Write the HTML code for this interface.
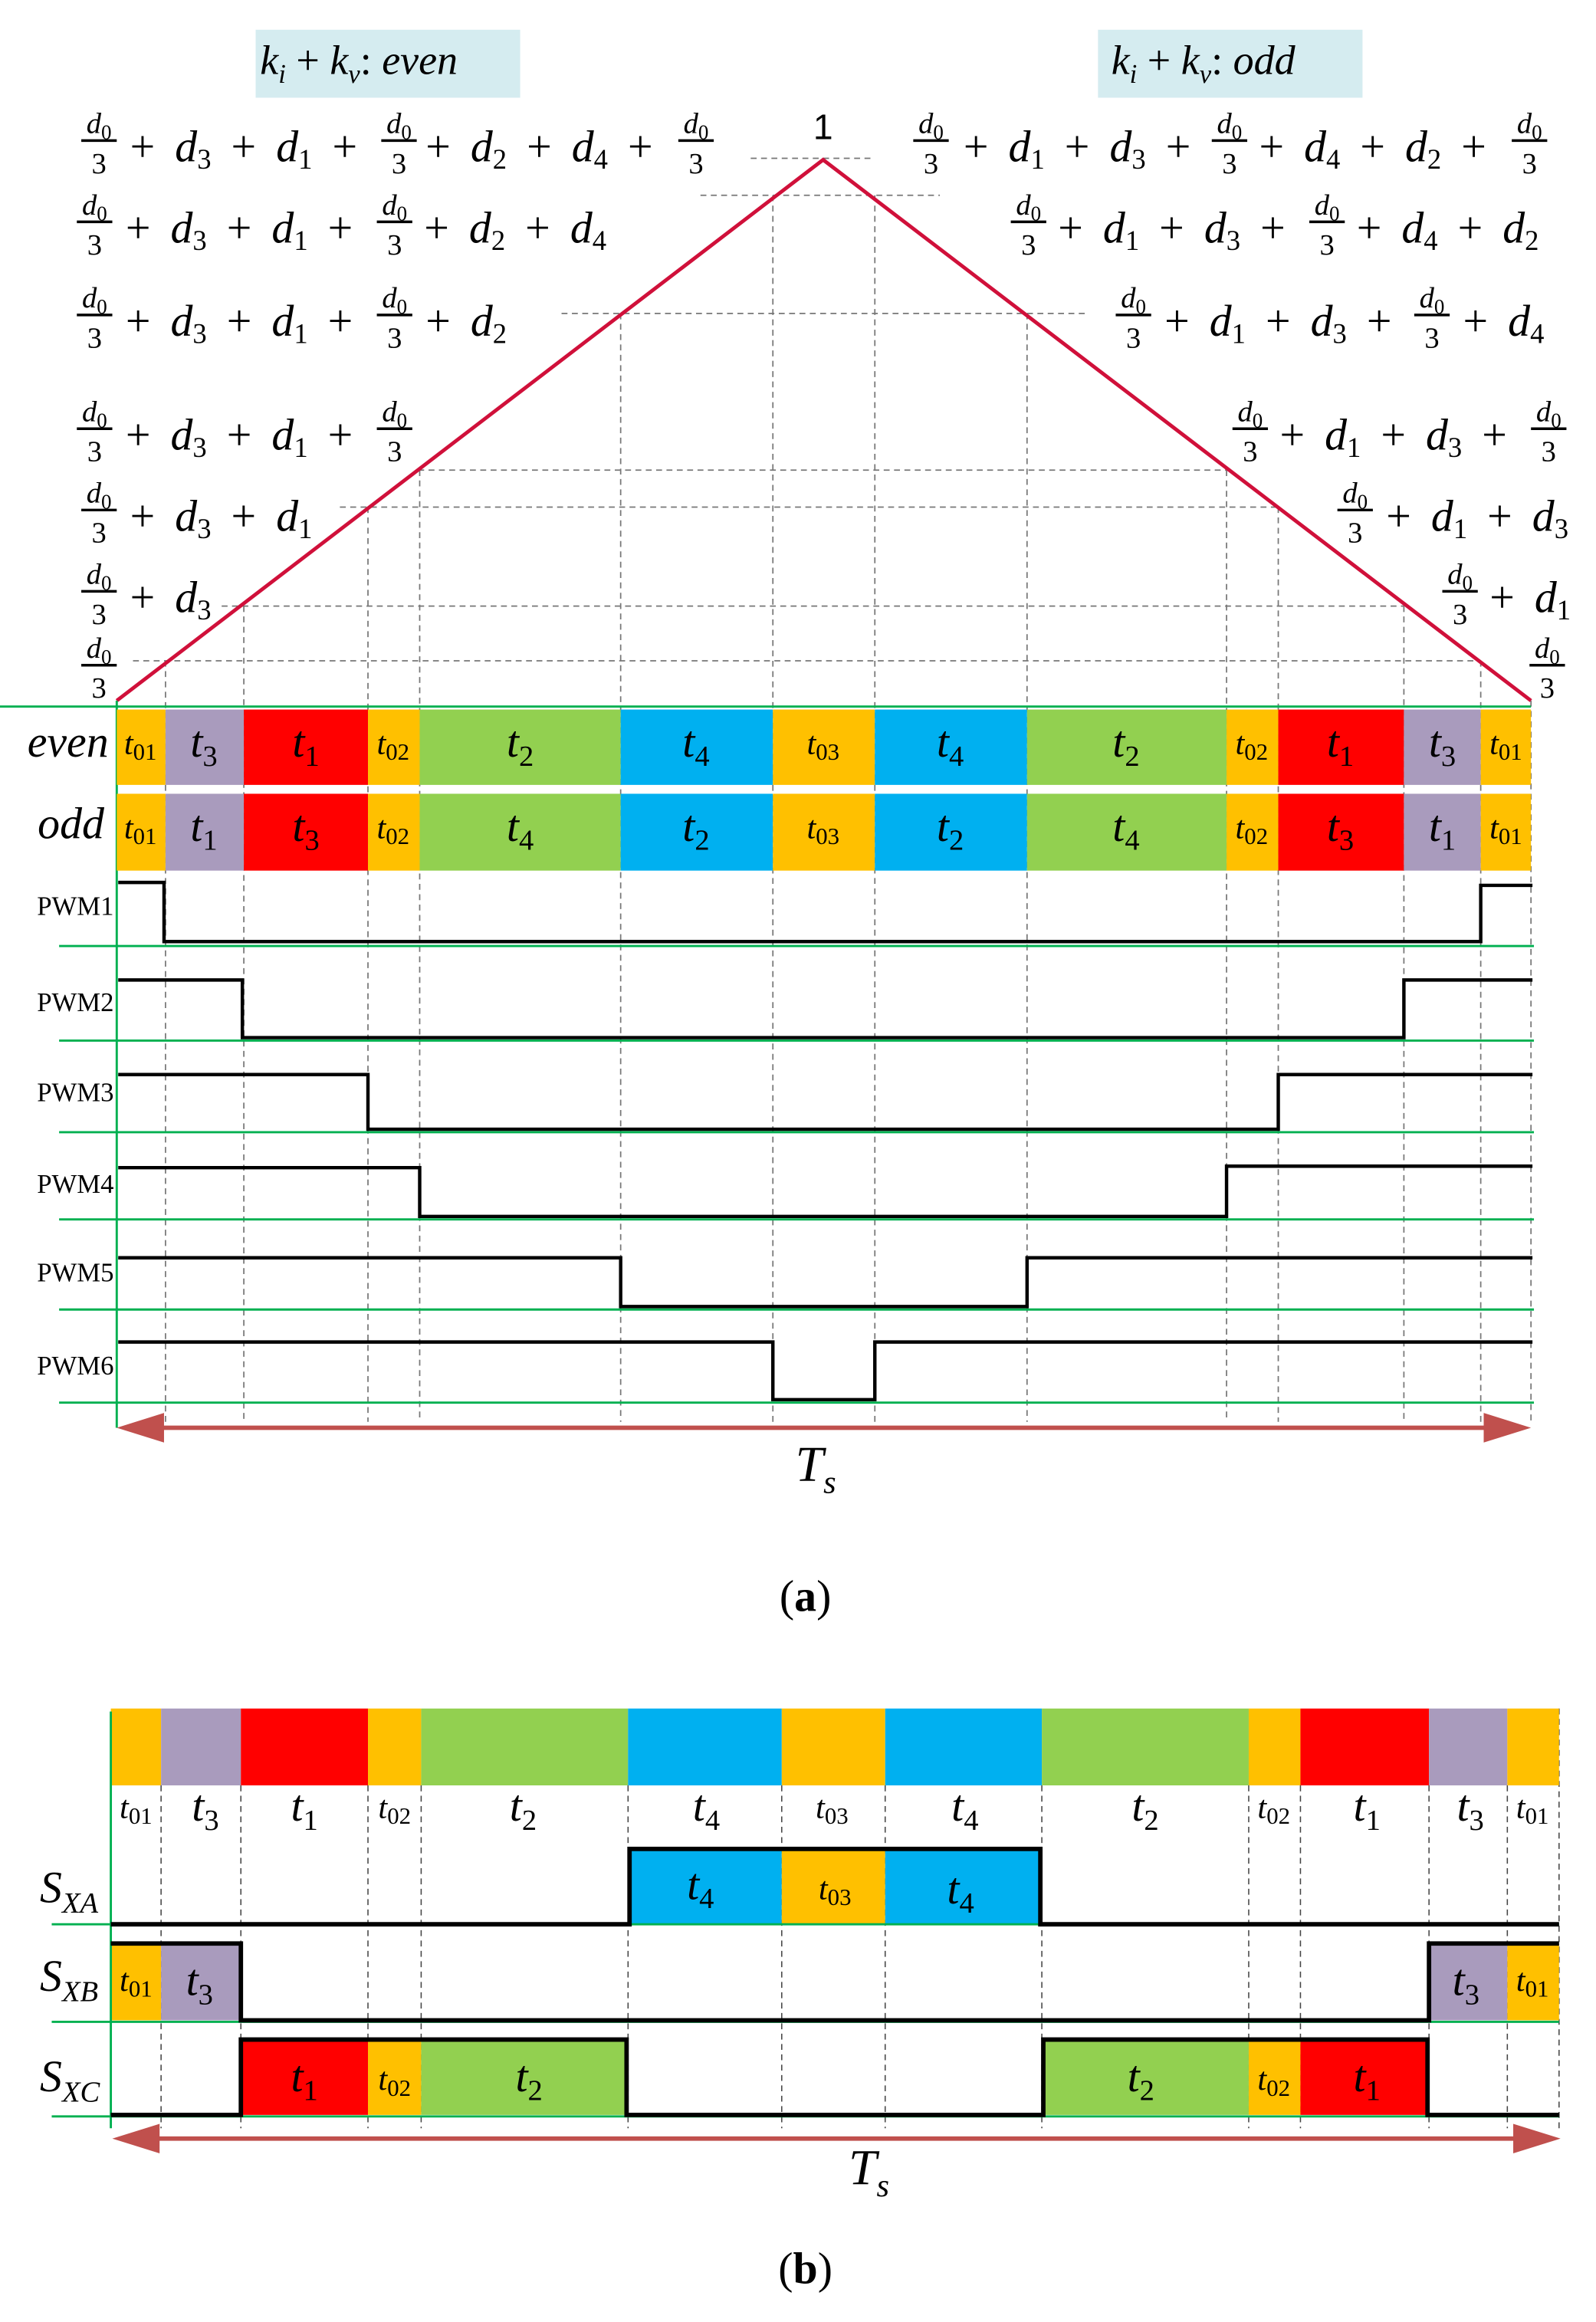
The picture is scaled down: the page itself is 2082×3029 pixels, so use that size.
<!DOCTYPE html>
<html><head><meta charset="utf-8"><style>html,body{margin:0;padding:0;background:#fff}svg{display:block}.f{word-spacing:6px}</style></head><body>
<svg width="2082" height="3029" viewBox="0 0 1080 1571" xmlns="http://www.w3.org/2000/svg" font-family="Liberation Serif, serif">
<defs>
<g id="fr"><text x="12" y="-10" font-size="20" font-style="italic" text-anchor="middle">d<tspan font-size="14" dy="4" font-style="normal">0</tspan></text><line x1="0" y1="-5" x2="24" y2="-5" stroke="#000" stroke-width="1.8"/><text x="12" y="17" font-size="20" text-anchor="middle">3</text></g>
</defs>
<rect x="173" y="20" width="179" height="46" fill="#d5ecf0"/>
<rect x="743" y="20" width="179" height="46" fill="#d5ecf0"/>
<g font-size="28" font-style="italic">
<text x="176" y="50">k<tspan font-size="18" dy="6">i</tspan><tspan dy="-6" font-style="normal"> + </tspan>k<tspan font-size="18" dy="6">v</tspan><tspan dy="-6" font-style="normal">: </tspan>even</text>
<text x="752" y="50">k<tspan font-size="18" dy="6">i</tspan><tspan dy="-6" font-style="normal"> + </tspan>k<tspan font-size="18" dy="6">v</tspan><tspan dy="-6" font-style="normal">: </tspan>odd</text>
</g>
<text x="557" y="94" font-size="24" text-anchor="middle" font-family="Liberation Sans, sans-serif">1</text>
<g stroke="#777" stroke-width="0.9" stroke-dasharray="4,3" fill="none">
<line x1="508" y1="107" x2="590" y2="107"/><line x1="474" y1="132" x2="636" y2="132"/>
<line x1="380" y1="212" x2="735" y2="212"/><line x1="283" y1="318" x2="830" y2="318"/>
<line x1="230" y1="343" x2="866" y2="343"/><line x1="150" y1="410" x2="950" y2="410"/>
<line x1="90" y1="447" x2="1002" y2="447"/>
<line x1="112" y1="447" x2="112" y2="962"/><line x1="165" y1="410" x2="165" y2="962"/>
<line x1="249" y1="343" x2="249" y2="962"/><line x1="284" y1="318" x2="284" y2="962"/>
<line x1="420" y1="212" x2="420" y2="962"/><line x1="523" y1="132" x2="523" y2="962"/>
<line x1="592" y1="132" x2="592" y2="962"/><line x1="695" y1="212" x2="695" y2="962"/>
<line x1="830" y1="318" x2="830" y2="962"/><line x1="865" y1="343" x2="865" y2="962"/>
<line x1="950" y1="410" x2="950" y2="962"/><line x1="1002" y1="447" x2="1002" y2="962"/>
<line x1="1036" y1="474" x2="1036" y2="962"/>
</g>
<polyline points="79,474 557,108 1036,474" fill="none" stroke="#d0103a" stroke-width="2.5"/>
<g font-size="30" class="f">
<use href="#fr" x="55" y="100"/><text x="88" y="109">+ <tspan font-style="italic">d</tspan><tspan font-size="19" dy="5">3</tspan><tspan dy="-5"> + </tspan><tspan font-style="italic">d</tspan><tspan font-size="19" dy="5">1</tspan><tspan dy="-5"> +</tspan></text>
<use href="#fr" x="258" y="100"/><text x="288" y="109">+ <tspan font-style="italic">d</tspan><tspan font-size="19" dy="5">2</tspan><tspan dy="-5"> + </tspan><tspan font-style="italic">d</tspan><tspan font-size="19" dy="5">4</tspan><tspan dy="-5"> +</tspan></text>
<use href="#fr" x="459" y="100"/>
<use href="#fr" x="52" y="155"/><text x="85" y="164">+ <tspan font-style="italic">d</tspan><tspan font-size="19" dy="5">3</tspan><tspan dy="-5"> + </tspan><tspan font-style="italic">d</tspan><tspan font-size="19" dy="5">1</tspan><tspan dy="-5"> +</tspan></text>
<use href="#fr" x="255" y="155"/><text x="287" y="164">+ <tspan font-style="italic">d</tspan><tspan font-size="19" dy="5">2</tspan><tspan dy="-5"> + </tspan><tspan font-style="italic">d</tspan><tspan font-size="19" dy="5">4</tspan></text>
<use href="#fr" x="52" y="218"/><text x="85" y="227">+ <tspan font-style="italic">d</tspan><tspan font-size="19" dy="5">3</tspan><tspan dy="-5"> + </tspan><tspan font-style="italic">d</tspan><tspan font-size="19" dy="5">1</tspan><tspan dy="-5"> +</tspan></text>
<use href="#fr" x="255" y="218"/><text x="288" y="227">+ <tspan font-style="italic">d</tspan><tspan font-size="19" dy="5">2</tspan></text>
<use href="#fr" x="52" y="295"/><text x="85" y="304">+ <tspan font-style="italic">d</tspan><tspan font-size="19" dy="5">3</tspan><tspan dy="-5"> + </tspan><tspan font-style="italic">d</tspan><tspan font-size="19" dy="5">1</tspan><tspan dy="-5"> +</tspan></text>
<use href="#fr" x="255" y="295"/>
<use href="#fr" x="55" y="350"/><text x="88" y="359">+ <tspan font-style="italic">d</tspan><tspan font-size="19" dy="5">3</tspan><tspan dy="-5"> + </tspan><tspan font-style="italic">d</tspan><tspan font-size="19" dy="5">1</tspan></text>
<use href="#fr" x="55" y="405"/><text x="88" y="414">+ <tspan font-style="italic">d</tspan><tspan font-size="19" dy="5">3</tspan></text>
<use href="#fr" x="55" y="455"/>
<use href="#fr" x="618" y="100"/><text x="652" y="109">+ <tspan font-style="italic">d</tspan><tspan font-size="19" dy="5">1</tspan><tspan dy="-5"> + </tspan><tspan font-style="italic">d</tspan><tspan font-size="19" dy="5">3</tspan><tspan dy="-5"> +</tspan></text>
<use href="#fr" x="820" y="100"/><text x="852" y="109">+ <tspan font-style="italic">d</tspan><tspan font-size="19" dy="5">4</tspan><tspan dy="-5"> + </tspan><tspan font-style="italic">d</tspan><tspan font-size="19" dy="5">2</tspan><tspan dy="-5"> +</tspan></text>
<use href="#fr" x="1023" y="100"/>
<use href="#fr" x="684" y="155"/><text x="716" y="164">+ <tspan font-style="italic">d</tspan><tspan font-size="19" dy="5">1</tspan><tspan dy="-5"> + </tspan><tspan font-style="italic">d</tspan><tspan font-size="19" dy="5">3</tspan><tspan dy="-5"> +</tspan></text>
<use href="#fr" x="886" y="155"/><text x="918" y="164">+ <tspan font-style="italic">d</tspan><tspan font-size="19" dy="5">4</tspan><tspan dy="-5"> + </tspan><tspan font-style="italic">d</tspan><tspan font-size="19" dy="5">2</tspan></text>
<use href="#fr" x="755" y="218"/><text x="788" y="227">+ <tspan font-style="italic">d</tspan><tspan font-size="19" dy="5">1</tspan><tspan dy="-5"> + </tspan><tspan font-style="italic">d</tspan><tspan font-size="19" dy="5">3</tspan><tspan dy="-5"> +</tspan></text>
<use href="#fr" x="957" y="218"/><text x="990" y="227">+ <tspan font-style="italic">d</tspan><tspan font-size="19" dy="5">4</tspan></text>
<use href="#fr" x="834" y="295"/><text x="866" y="304">+ <tspan font-style="italic">d</tspan><tspan font-size="19" dy="5">1</tspan><tspan dy="-5"> + </tspan><tspan font-style="italic">d</tspan><tspan font-size="19" dy="5">3</tspan><tspan dy="-5"> +</tspan></text>
<use href="#fr" x="1036" y="295"/>
<use href="#fr" x="905" y="350"/><text x="938" y="359">+ <tspan font-style="italic">d</tspan><tspan font-size="19" dy="5">1</tspan><tspan dy="-5"> + </tspan><tspan font-style="italic">d</tspan><tspan font-size="19" dy="5">3</tspan></text>
<use href="#fr" x="976" y="405"/><text x="1008" y="414">+ <tspan font-style="italic">d</tspan><tspan font-size="19" dy="5">1</tspan></text>
<use href="#fr" x="1035" y="455"/>
</g>
<g stroke="#00b050" stroke-width="1.5">
<line x1="0" y1="478" x2="1036" y2="478"/><line x1="79" y1="474" x2="79" y2="966"/>
<line x1="40" y1="640" x2="1038" y2="640"/><line x1="40" y1="704" x2="1038" y2="704"/>
<line x1="40" y1="766" x2="1038" y2="766"/><line x1="40" y1="825" x2="1038" y2="825"/>
<line x1="40" y1="886" x2="1038" y2="886"/><line x1="40" y1="949" x2="1038" y2="949"/>
</g>
<g>
<rect x="79" y="480" width="33" height="51" fill="#FFC000"/><rect x="112" y="480" width="53" height="51" fill="#A99BBD"/><rect x="165" y="480" width="84" height="51" fill="#FF0000"/><rect x="249" y="480" width="35" height="51" fill="#FFC000"/><rect x="284" y="480" width="136" height="51" fill="#92D050"/><rect x="420" y="480" width="103" height="51" fill="#00B0F0"/><rect x="523" y="480" width="69" height="51" fill="#FFC000"/><rect x="592" y="480" width="103" height="51" fill="#00B0F0"/><rect x="695" y="480" width="135" height="51" fill="#92D050"/><rect x="830" y="480" width="35" height="51" fill="#FFC000"/><rect x="865" y="480" width="85" height="51" fill="#FF0000"/><rect x="950" y="480" width="52" height="51" fill="#A99BBD"/><rect x="1002" y="480" width="34" height="51" fill="#FFC000"/>
<rect x="79" y="537" width="33" height="52" fill="#FFC000"/><rect x="112" y="537" width="53" height="52" fill="#A99BBD"/><rect x="165" y="537" width="84" height="52" fill="#FF0000"/><rect x="249" y="537" width="35" height="52" fill="#FFC000"/><rect x="284" y="537" width="136" height="52" fill="#92D050"/><rect x="420" y="537" width="103" height="52" fill="#00B0F0"/><rect x="523" y="537" width="69" height="52" fill="#FFC000"/><rect x="592" y="537" width="103" height="52" fill="#00B0F0"/><rect x="695" y="537" width="135" height="52" fill="#92D050"/><rect x="830" y="537" width="35" height="52" fill="#FFC000"/><rect x="865" y="537" width="85" height="52" fill="#FF0000"/><rect x="950" y="537" width="52" height="52" fill="#A99BBD"/><rect x="1002" y="537" width="34" height="52" fill="#FFC000"/>
</g>
<g font-style="italic" font-size="30" text-anchor="middle">
<text x="46" y="512">even</text><text x="48" y="567">odd</text>
</g>
<g font-style="italic" text-anchor="middle">
<g font-size="22"><text x="95" y="510">t<tspan font-style="normal" font-size="16" dy="4">01</tspan></text><text x="266" y="510">t<tspan font-style="normal" font-size="16" dy="4">02</tspan></text><text x="557" y="510">t<tspan font-style="normal" font-size="16" dy="4">03</tspan></text><text x="847" y="510">t<tspan font-style="normal" font-size="16" dy="4">02</tspan></text><text x="1019" y="510">t<tspan font-style="normal" font-size="16" dy="4">01</tspan></text>
<text x="95" y="567">t<tspan font-style="normal" font-size="16" dy="4">01</tspan></text><text x="266" y="567">t<tspan font-style="normal" font-size="16" dy="4">02</tspan></text><text x="557" y="567">t<tspan font-style="normal" font-size="16" dy="4">03</tspan></text><text x="847" y="567">t<tspan font-style="normal" font-size="16" dy="4">02</tspan></text><text x="1019" y="567">t<tspan font-style="normal" font-size="16" dy="4">01</tspan></text></g>
<g font-size="30"><text x="138" y="512">t<tspan font-style="normal" font-size="20" dy="6">3</tspan></text><text x="207" y="512">t<tspan font-style="normal" font-size="20" dy="6">1</tspan></text><text x="352" y="512">t<tspan font-style="normal" font-size="20" dy="6">2</tspan></text><text x="471" y="512">t<tspan font-style="normal" font-size="20" dy="6">4</tspan></text><text x="643" y="512">t<tspan font-style="normal" font-size="20" dy="6">4</tspan></text><text x="762" y="512">t<tspan font-style="normal" font-size="20" dy="6">2</tspan></text><text x="907" y="512">t<tspan font-style="normal" font-size="20" dy="6">1</tspan></text><text x="976" y="512">t<tspan font-style="normal" font-size="20" dy="6">3</tspan></text>
<text x="138" y="569">t<tspan font-style="normal" font-size="20" dy="6">1</tspan></text><text x="207" y="569">t<tspan font-style="normal" font-size="20" dy="6">3</tspan></text><text x="352" y="569">t<tspan font-style="normal" font-size="20" dy="6">4</tspan></text><text x="471" y="569">t<tspan font-style="normal" font-size="20" dy="6">2</tspan></text><text x="643" y="569">t<tspan font-style="normal" font-size="20" dy="6">2</tspan></text><text x="762" y="569">t<tspan font-style="normal" font-size="20" dy="6">4</tspan></text><text x="907" y="569">t<tspan font-style="normal" font-size="20" dy="6">3</tspan></text><text x="976" y="569">t<tspan font-style="normal" font-size="20" dy="6">1</tspan></text></g>
</g>
<g font-size="18" text-anchor="end"><text x="77" y="619">PWM1</text><text x="77" y="684">PWM2</text><text x="77" y="745">PWM3</text><text x="77" y="807">PWM4</text><text x="77" y="867">PWM5</text><text x="77" y="930">PWM6</text></g>
<g fill="none" stroke="#000" stroke-width="2.3">
<polyline points="80,597 111,597 111,637 1002,637 1002,599 1037,599"/>
<polyline points="80,663 164,663 164,702 950,702 950,663 1037,663"/>
<polyline points="80,727 249,727 249,764 865,764 865,727 1037,727"/>
<polyline points="80,790 284,790 284,823 830,823 830,789 1037,789"/>
<polyline points="80,851 420,851 420,884 695,884 695,851 1037,851"/>
<polyline points="80,908 523,908 523,947 592,947 592,908 1037,908"/>
</g>
<line x1="100" y1="966" x2="1015" y2="966" stroke="#c0504d" stroke-width="3"/>
<polygon points="79,966 111,956 111,976" fill="#c0504d"/><polygon points="1036,966 1004,956 1004,976" fill="#c0504d"/>
<text x="552" y="1002" font-size="34" font-style="italic" text-anchor="middle">T<tspan font-size="22" dy="8">s</tspan></text>
<text x="545" y="1090" font-size="30" text-anchor="middle">(<tspan font-weight="bold">a</tspan>)</text>

<g stroke="#444" stroke-width="0.8" stroke-dasharray="4,3">
<line x1="109" y1="1208" x2="109" y2="1440"/><line x1="163" y1="1208" x2="163" y2="1440"/><line x1="249" y1="1208" x2="249" y2="1440"/><line x1="285" y1="1208" x2="285" y2="1440"/><line x1="425" y1="1208" x2="425" y2="1440"/><line x1="529" y1="1208" x2="529" y2="1440"/><line x1="599" y1="1208" x2="599" y2="1440"/><line x1="705" y1="1208" x2="705" y2="1440"/><line x1="845" y1="1208" x2="845" y2="1440"/><line x1="880" y1="1208" x2="880" y2="1440"/><line x1="967" y1="1208" x2="967" y2="1440"/><line x1="1020" y1="1208" x2="1020" y2="1440"/><line x1="1055" y1="1156" x2="1055" y2="1440"/>
</g>
<rect x="75" y="1156" width="34" height="52" fill="#FFC000"/><rect x="109" y="1156" width="54" height="52" fill="#A99BBD"/><rect x="163" y="1156" width="86" height="52" fill="#FF0000"/><rect x="249" y="1156" width="36" height="52" fill="#FFC000"/><rect x="285" y="1156" width="140" height="52" fill="#92D050"/><rect x="425" y="1156" width="104" height="52" fill="#00B0F0"/><rect x="529" y="1156" width="70" height="52" fill="#FFC000"/><rect x="599" y="1156" width="106" height="52" fill="#00B0F0"/><rect x="705" y="1156" width="140" height="52" fill="#92D050"/><rect x="845" y="1156" width="35" height="52" fill="#FFC000"/><rect x="880" y="1156" width="87" height="52" fill="#FF0000"/><rect x="967" y="1156" width="53" height="52" fill="#A99BBD"/><rect x="1020" y="1156" width="35" height="52" fill="#FFC000"/>
<rect x="425" y="1251" width="104" height="51" fill="#00B0F0"/><rect x="529" y="1251" width="70" height="51" fill="#FFC000"/><rect x="599" y="1251" width="106" height="51" fill="#00B0F0"/>
<rect x="75" y="1315" width="34" height="52" fill="#FFC000"/><rect x="109" y="1315" width="54" height="52" fill="#A99BBD"/><rect x="967" y="1315" width="53" height="52" fill="#A99BBD"/><rect x="1020" y="1315" width="35" height="52" fill="#FFC000"/>
<rect x="163" y="1380" width="86" height="51" fill="#FF0000"/><rect x="249" y="1380" width="36" height="51" fill="#FFC000"/><rect x="285" y="1380" width="140" height="51" fill="#92D050"/><rect x="705" y="1380" width="140" height="51" fill="#92D050"/><rect x="845" y="1380" width="35" height="51" fill="#FFC000"/><rect x="880" y="1380" width="87" height="51" fill="#FF0000"/>
<g stroke="#00b050" stroke-width="1.5"><line x1="75" y1="1158" x2="75" y2="1440"/><line x1="35" y1="1302" x2="1055" y2="1302"/><line x1="35" y1="1368" x2="1055" y2="1368"/><line x1="35" y1="1432" x2="1055" y2="1432"/></g>
<g fill="none" stroke="#000" stroke-width="3">
<polyline points="75,1302 426,1302 426,1251 704,1251 704,1302 1055,1302"/>
<polyline points="75,1315 163,1315 163,1367 967,1367 967,1315 1055,1315"/>
<polyline points="75,1431 163,1431 163,1380 424,1380 424,1431 706,1431 706,1380 966,1380 966,1431 1055,1431"/>
</g>
<g font-style="italic" text-anchor="middle">
<g font-size="22"><text x="92" y="1230">t<tspan font-style="normal" font-size="16" dy="4">01</tspan></text><text x="267" y="1230">t<tspan font-style="normal" font-size="16" dy="4">02</tspan></text><text x="563" y="1230">t<tspan font-style="normal" font-size="16" dy="4">03</tspan></text><text x="862" y="1230">t<tspan font-style="normal" font-size="16" dy="4">02</tspan></text><text x="1037" y="1230">t<tspan font-style="normal" font-size="16" dy="4">01</tspan></text>
<text x="565" y="1285">t<tspan font-style="normal" font-size="16" dy="4">03</tspan></text><text x="92" y="1347">t<tspan font-style="normal" font-size="16" dy="4">01</tspan></text><text x="1037" y="1347">t<tspan font-style="normal" font-size="16" dy="4">01</tspan></text><text x="267" y="1414">t<tspan font-style="normal" font-size="16" dy="4">02</tspan></text><text x="862" y="1414">t<tspan font-style="normal" font-size="16" dy="4">02</tspan></text></g>
<g font-size="30"><text x="139" y="1232">t<tspan font-style="normal" font-size="20" dy="6">3</tspan></text><text x="206" y="1232">t<tspan font-style="normal" font-size="20" dy="6">1</tspan></text><text x="354" y="1232">t<tspan font-style="normal" font-size="20" dy="6">2</tspan></text><text x="478" y="1232">t<tspan font-style="normal" font-size="20" dy="6">4</tspan></text><text x="653" y="1232">t<tspan font-style="normal" font-size="20" dy="6">4</tspan></text><text x="775" y="1232">t<tspan font-style="normal" font-size="20" dy="6">2</tspan></text><text x="925" y="1232">t<tspan font-style="normal" font-size="20" dy="6">1</tspan></text><text x="995" y="1232">t<tspan font-style="normal" font-size="20" dy="6">3</tspan></text>
<text x="474" y="1285">t<tspan font-style="normal" font-size="20" dy="6">4</tspan></text><text x="650" y="1288">t<tspan font-style="normal" font-size="20" dy="6">4</tspan></text>
<text x="135" y="1350">t<tspan font-style="normal" font-size="20" dy="6">3</tspan></text><text x="992" y="1350">t<tspan font-style="normal" font-size="20" dy="6">3</tspan></text>
<text x="206" y="1415">t<tspan font-style="normal" font-size="20" dy="6">1</tspan></text><text x="358" y="1415">t<tspan font-style="normal" font-size="20" dy="6">2</tspan></text><text x="772" y="1415">t<tspan font-style="normal" font-size="20" dy="6">2</tspan></text><text x="925" y="1415">t<tspan font-style="normal" font-size="20" dy="6">1</tspan></text></g>
<g font-size="30" text-anchor="start"><text x="27" y="1287">S<tspan font-size="20" dy="7">XA</tspan></text><text x="27" y="1347">S<tspan font-size="20" dy="7">XB</tspan></text><text x="27" y="1415">S<tspan font-size="20" dy="7">XC</tspan></text></g>
</g>
<line x1="100" y1="1447" x2="1030" y2="1447" stroke="#c0504d" stroke-width="3"/>
<polygon points="76,1447 108,1437 108,1457" fill="#c0504d"/><polygon points="1056,1447 1024,1437 1024,1457" fill="#c0504d"/>
<text x="588" y="1478" font-size="34" font-style="italic" text-anchor="middle">T<tspan font-size="22" dy="8">s</tspan></text>
<text x="545" y="1545" font-size="30" text-anchor="middle">(<tspan font-weight="bold">b</tspan>)</text>
</svg>
</body></html>
